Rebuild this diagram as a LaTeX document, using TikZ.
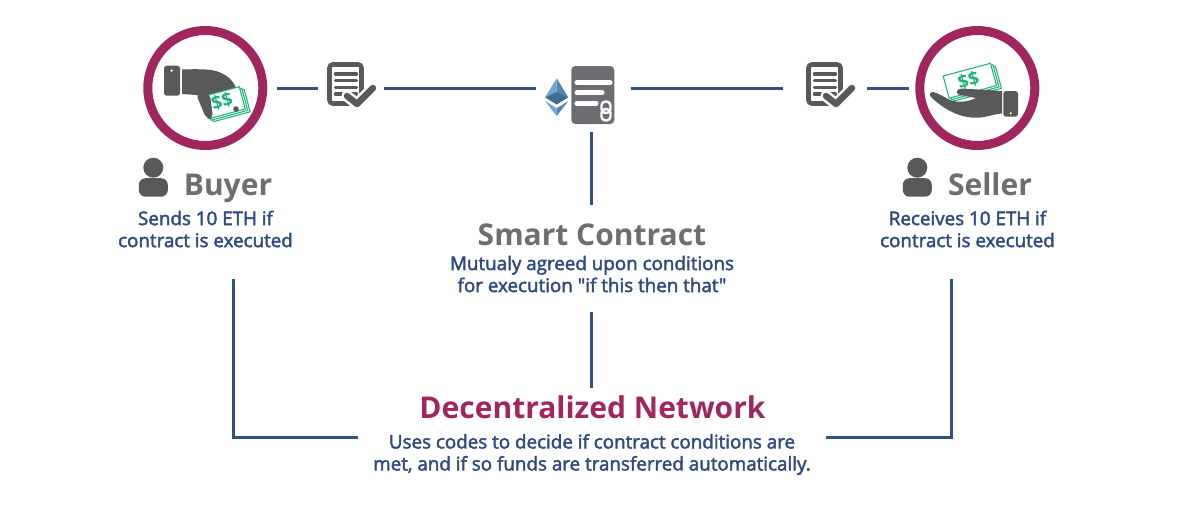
\documentclass[tikz,border=0pt]{standalone}
\usepackage{fontspec}
\setmainfont{Open Sans}
\newfontfamily\semifont[FakeBold=2.4]{Open Sans}
\usetikzlibrary{positioning}

\definecolor{ringred}{RGB}{160,38,96}
\definecolor{linkblue}{RGB}{52,80,130}
\definecolor{textblue}{RGB}{47,75,130}
\definecolor{titlegrey}{RGB}{109,110,113}
\definecolor{icongrey}{RGB}{88,89,91}
\definecolor{cashgreen}{RGB}{30,180,120}
\definecolor{ethlight}{RGB}{112,165,205}
\definecolor{ethmid}{RGB}{80,135,178}
\definecolor{ethdark}{RGB}{62,108,150}

\tikzset{
	link/.style={draw=linkblue,line width=2.25pt},
	ring/.style={circle,draw=ringred,line width=6.75pt,minimum size=86.25pt,inner sep=0pt,outer sep=10.65pt},
	dealbox/.style={rectangle,minimum width=49.5pt,minimum height=30pt,inner sep=0pt,outer sep=0pt},
	title/.style={font=\fontsize{22.5}{27}\selectfont\bfseries,text=titlegrey},
	bodytext/.style={font=\fontsize{14.1}{16.5}\selectfont\semifont,text=textblue,align=center},
	bill/.style={draw=cashgreen,fill=white,line width=0.8pt},
	pics/dealicon/.style={code={
		\draw [draw=icongrey,line width=3.4pt,rounded corners=2.5pt] (-22,-24.5) rectangle (10,14.5);
		\foreach \y in {-15,-8.5,-1.5,5} {
			\draw [icongrey,line width=2.6pt,line cap=round] (-16,\y) -- (5,\y);
		}
		\draw [white,line width=8.5pt,line cap=round,line join=round] (-4.5,7) -- (5.5,15) -- (21.5,-1);
		\draw [icongrey,line width=4.8pt,line cap=round,line join=round] (-4.5,7) -- (5.5,15) -- (21.5,-1);
	}},
	pics/personicon/.style={code={
		\fill [icongrey] (0,-17) circle (10);
		\fill [icongrey,rounded corners=5pt] (-14.5,12) -- (-14.5,-6.5) -- (14.5,-6.5) -- (14.5,12) -- cycle;
	}}
}

\begin{document}
\begin{tikzpicture}[x=0.75pt,y=0.75pt,yscale=-1,xscale=1]
	\useasboundingbox (0,0) rectangle (1185,522);

	% Rings and boxes on the top row
	\node [ring] (buyerring) at (205.3,88) {};
	\node [ring,outer sep=7.9pt] (sellerring) at (977.3,88) {};
	\node [dealbox] (dealleft) at (351,88) {};
	\node [dealbox,minimum width=63pt] (dealright) at (825,88) {};
	\node [dealbox,minimum width=71.25pt,minimum height=54pt] (contract) at (583.5,96) {};

	% Free ends
	\coordinate (contractfoot) at (591.5,132);
	\coordinate (titletop) at (591.5,205);
	\coordinate (bodyfoot) at (591.5,312);
	\coordinate (networktop) at (591.5,388);
	\coordinate (buyerfoot) at (233,279);
	\coordinate (sellerfoot) at (951,279);
	\coordinate (networkleft) at (358,437);
	\coordinate (networkright) at (826,437);

	% Connectors
	\draw [link] (buyerring.east) -- (dealleft.west);
	\draw [link] (dealleft.east) -- (contract.west |- dealleft.east);
	\draw [link] (contract.east |- dealright.west) -- (dealright.west);
	\draw [link] (dealright.east) -- (sellerring.west);
	\draw [link] (contractfoot) -- (titletop);
	\draw [link] (bodyfoot) -- (networktop);
	\draw [link] (buyerfoot) |- (networkleft);
	\draw [link] (sellerfoot) |- (networkright);

	% Deal icons
	\pic [transform shape] at (351.5,89) {dealicon};
	\pic [transform shape] at (830.5,89) {dealicon};

	% Ether diamond
	\fill [ethlight] (545,97.3) -- (556.7,78.3) -- (556.7,92) -- cycle;
	\fill [ethmid] (568.3,97.3) -- (556.7,78.3) -- (556.7,92) -- cycle;
	\fill [ethdark] (545,97.3) -- (556.7,92) -- (568.3,97.3) -- (556.7,104.5) -- cycle;
	\fill [ethlight] (545,101) -- (556.7,108.3) -- (556.7,116) -- cycle;
	\fill [ethmid] (568.3,101) -- (556.7,108.3) -- (556.7,116) -- cycle;

	% Contract sheet
	\fill [titlegrey,rounded corners=3pt] (571.3,66) rectangle (614.3,124);
	\draw [white,line width=3.8pt,line cap=round] (577,82.7) -- (610,82.7);
	\draw [white,line width=3.8pt,line cap=round] (577,92.7) -- (602,92.7);
	\draw [white,line width=3.8pt,line cap=round] (577,103.3) -- (596,103.3);
	\draw [white,line width=1.8pt,rounded corners=3pt] (601.5,101.5) rectangle (610.5,113);
	\draw [white,line width=1.8pt,rounded corners=3pt] (601.5,109) rectangle (610.5,120.5);

	% Buyer hand and cash
	\fill [icongrey,rounded corners=2pt] (164,65.7) rectangle (180,95.7);
	\fill [white] (171.7,70.7) circle (1.3);
	\fill [icongrey] (182,69.5) .. controls (195,69) and (210,69) .. (216,71) .. controls (226,74) and (233,80) .. (236,88) -- (236,110) -- (210,96) -- (182,94) -- cycle;
	\begin{scope}[shift={(225,103)},rotate=-15]
		\draw [bill] (-16,-8) rectangle (22,15);
		\draw [bill] (-18,-10) rectangle (20,13);
		\draw [bill] (-20,-12) rectangle (18,11);
	\end{scope}
	\fill [icongrey,rounded corners=3pt] (196,94) -- (210,94) -- (213,118) -- (210,118.5) -- (206,118) -- cycle;
	\fill [icongrey] (236,109) circle (2.8);
	\node [rotate=15,text=cashgreen,font=\fontsize{14}{14}\selectfont\bfseries] (buyercash) at (222,101.5) {\$\$};

	% Seller hand and cash
	\begin{scope}[shift={(970,83.3)},rotate=-15]
		\draw [bill] (-20,-10) rectangle (29,13);
		\draw [bill] (-22,-12) rectangle (27,11);
		\draw [bill] (-24,-14) rectangle (25,9);
	\end{scope}
	\node [rotate=15,text=cashgreen,font=\fontsize{14}{14}\selectfont\bfseries] (sellercash) at (968.5,80.5) {\$\$};
	\fill [icongrey,rounded corners=2pt] (1003.3,91) rectangle (1018,116.7);
	\fill [white] (1010.7,113.3) circle (1.1);
	\fill [icongrey] (1002,91) -- (962,88.5) .. controls (956,88.5) and (955,94) .. (960,95) -- (976,98) .. controls (968,102) and (958,103) .. (950,100) .. controls (944,97) and (938,93) .. (933,92) .. controls (929,92) and (929,96) .. (932,98) .. controls (945,110) and (960,118) .. (977,117.7) .. controls (986,117.5) and (994,114) .. (1002,113.5) -- cycle;

	% Person icons
	\pic [transform shape] at (153.3,184.7) {personicon};
	\pic [transform shape] at (917.3,184.7) {personicon};

	% Text Node
	\node [title] (buyertitle) at (228,188) {Buyer};
	\node [title] (sellertitle) at (990,184.5) {Seller};
	\node [title] (contracttitle) at (592,235) {Smart Contract};
	\node [title,text=ringred] (networktitle) at (592.5,407) {Decentralized Network};
	\node [bodytext] (buyertext) at (205.5,229) {Sends 10 ETH if\\contract is executed};
	\node [bodytext] (sellertext) at (967.5,229) {Receives 10 ETH if\\contract is executed};
	\node [bodytext] (contracttext) at (592,274) {Mutualy agreed upon conditions\\for execution "if this then that"};
	\node [bodytext] (networktext) at (592,454.5) {Uses codes to decide if contract conditions are\\met, and if so funds are transferred automatically.};
\end{tikzpicture}
\end{document}
